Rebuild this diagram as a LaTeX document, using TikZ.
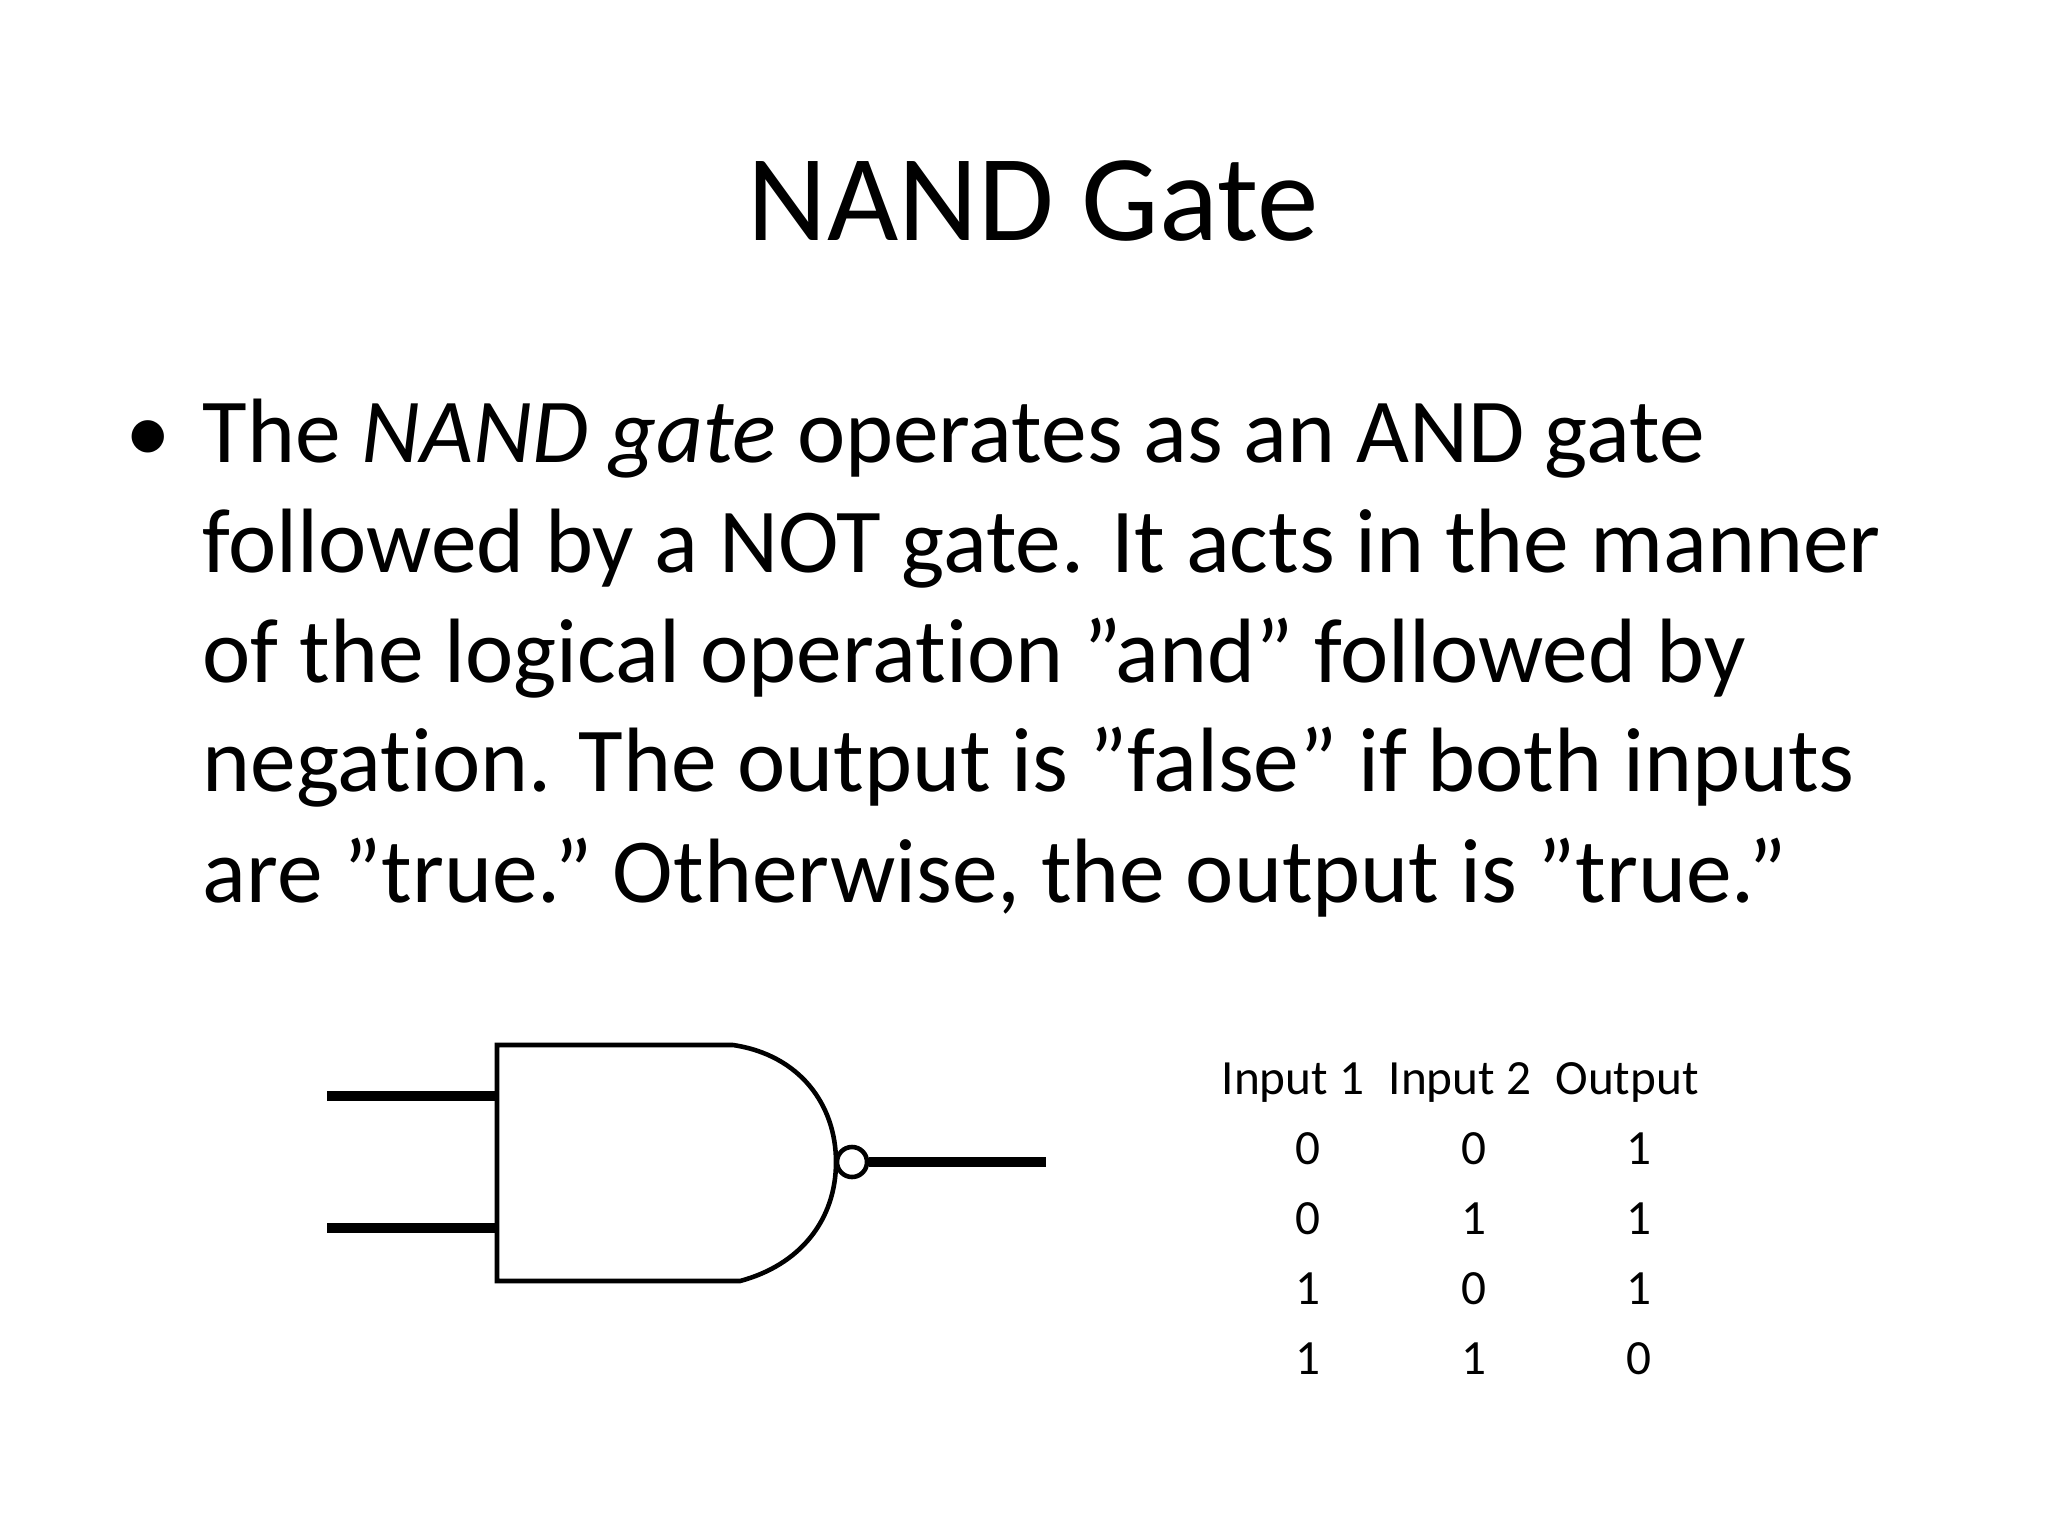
\documentclass[tikz,border=0pt]{standalone}
\usepackage{fontspec}
\setmainfont[Ligatures={NoCommon}]{Carlito}
\usetikzlibrary{positioning}
\newcommand{\qq}{\symbol{34}}
\tikzset{
  wire/.style={line width=2.6pt},
  body/.style={line width=1.3pt},
  line/.style={anchor=base west, inner sep=0pt, font=\fontsize{26}{31}\selectfont},
  cell/.style={anchor=base, inner sep=0pt, font=\fontsize{14}{16}\selectfont}
}
\begin{document}
\begin{tikzpicture}[x=0.01cm, y=-0.01cm]
\useasboundingbox (0,0) rectangle (2048,1536);

\node[anchor=base, inner sep=0pt, font=\fontsize{35}{40}\selectfont] (title) at (1033,240) {NAND Gate};

% bullet text
\node[line] (bul) at (125,462) {•};
\node[line] (l1) at (202,462) {The \textit{NAND gate} operates as an AND gate};
\node[line] (l2) at (202,572) {followed by a NOT gate. It acts in the manner};
\node[line] (l3) at (202,682) {of the logical operation \qq and\qq\ followed by};
\node[line] (l4) at (202,791) {negation. The output is \qq false\qq\ if both inputs};
\node[line] (l5) at (202,902) {are \qq true.\qq\ Otherwise, the output is \qq true.\qq};

% gate
\coordinate (in1) at (327,1096);
\coordinate (in2) at (327,1228);
\coordinate (a1) at (497,1096);
\coordinate (a2) at (497,1228);
\draw[body] (733,1045) -- (497,1045) -- (497,1281) -- (740,1281)
  .. controls (800,1265) and (836,1220) .. (836,1162)
  .. controls (836,1105) and (800,1055) .. (733,1045);
\node[draw, circle, body, minimum size=0.3cm, inner sep=0pt] (bub) at (852,1162) {};
\coordinate (out) at (1046,1162);
\draw[wire] (in1) -- (a1);
\draw[wire] (in2) -- (a2);
\draw[wire] (bub) -- (out);

% truth table
\node[cell] (h1) at (1293,1094) {Input 1};
\node[cell] (h2) at (1460,1094) {Input 2};
\node[cell] (h3) at (1627,1094) {Output};
\foreach \a/\b/\c [count=\i] in {0/0/1,0/1/1,1/0/1,1/1/0}{
  \node[cell] (r\i a) at (1308,1094+70*\i) {\a};
  \node[cell] (r\i b) at (1474,1094+70*\i) {\b};
  \node[cell] (r\i c) at (1639,1094+70*\i) {\c};
}
\end{tikzpicture}
\end{document}
